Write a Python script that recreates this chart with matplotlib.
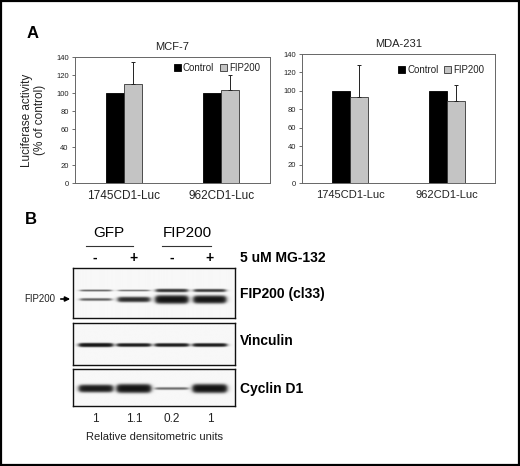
import numpy as np
import matplotlib
matplotlib.use("Agg")
import matplotlib.pyplot as plt
from matplotlib.patches import Rectangle, FancyArrowPatch

plt.rcParams['font.family'] = ['Liberation Sans', 'DejaVu Sans']

# ---------------- data ----------------
categories = ["1745CD1-Luc", "962CD1-Luc"]
series_names = ["Control", "FIP200"]
mcf7_control = [100, 100]
mcf7_fip200 = [110, 103]
mcf7_fip200_err = [25, 17]
mda_control = [100, 100]
mda_fip200 = [93, 89]
mda_fip200_err = [35, 17]
yticks = [0, 20, 40, 60, 80, 100, 120, 140]

lane_groups = ["GFP", "FIP200"]
mg132 = ["-", "+", "-", "+"]
fip200_upper = [0.35, 0.30, 0.60, 0.55]
fip200_lower = [0.35, 0.65, 0.97, 0.92]
vinculin = [0.95, 0.85, 0.85, 0.85]
cyclin_d1 = [0.85, 0.97, 0.32, 0.97]
densito = ["1", "1.1", "0.2", "1"]

W, H = 520, 466
fig = plt.figure(figsize=(W / 100, H / 100), dpi=100)
TXT = '#222222'


def fx(px):
    return px / W


def fy(py):
    return 1 - py / H


def bar_chart(rect, ctrl, fip, err, title, tick_fs, cat_fs, leg_anchor, ylabel=None):
    ax = fig.add_axes(rect)
    x = np.arange(len(categories))
    w = 0.185
    ax.bar(x - w / 2, ctrl, w, color='black', edgecolor='black', lw=0.6, label=series_names[0])
    ax.bar(x + w / 2, fip, w, color='#c4c4c4', edgecolor='#333333', lw=0.6, label=series_names[1])
    ax.errorbar(x + w / 2, fip, yerr=[np.zeros(len(err)), err], fmt='none',
                ecolor='#222222', elinewidth=0.7, capsize=1.2, capthick=0.7)
    ax.set_xlim(-0.5, 1.5)
    ax.set_ylim(0, 140)
    ax.set_yticks(yticks)
    ax.set_yticklabels([str(t) for t in yticks], fontsize=tick_fs, color=TXT)
    ax.set_xticks(x)
    ax.set_xticklabels(categories, fontsize=cat_fs, color=TXT)
    ax.tick_params(axis='x', length=0, pad=5)
    ax.tick_params(axis='y', length=2.5, width=0.6, color='#555555', pad=2)
    for s in ax.spines.values():
        s.set_color('#666666')
        s.set_linewidth(0.7)
    ax.set_title(title, fontsize=8, color=TXT, pad=5)
    leg = ax.legend(loc='center right', bbox_to_anchor=leg_anchor, ncol=2, frameon=False,
                    fontsize=7, handlelength=0.7, handleheight=0.7, handletextpad=0.25,
                    columnspacing=0.6, borderaxespad=0)
    for t in leg.get_texts():
        t.set_color(TXT)
    if ylabel:
        ax.set_ylabel(ylabel, fontsize=8.5, color=TXT, linespacing=1.15)
        ax.yaxis.set_label_coords(-0.148, 0.5)
    return ax


bar_chart([fx(75), fy(183), fx(195), 126 / H], mcf7_control, mcf7_fip200, mcf7_fip200_err,
          "MCF-7", 5.5, 8.5, (0.97, 0.913), "Luciferase activity\n(% of control)")
bar_chart([fx(302), fy(183), fx(193), 129 / H], mda_control, mda_fip200, mda_fip200_err,
          "MDA-231", 5.5, 8, (0.965, 0.876))


# ---------------- blot ----------------
def blot(top, bottom, bands):
    ax = fig.add_axes([fx(73), fy(bottom), fx(162), (bottom - top) / H])
    hgt = bottom - top
    xs = np.linspace(-0.6, 3.66, 500)
    ys = np.linspace(0, hgt, 250)
    X, Y = np.meshgrid(xs, ys)
    dens = np.zeros_like(X)
    for inten, yc, base, hw in bands:
        for lane, val in enumerate(inten):
            hprof = 1 / (1 + np.exp((np.abs(X - lane) - hw) / 0.035))
            t = max(0.8, base * val)
            dens += val * hprof * np.exp(-(np.abs(Y - yc) / t) ** 2.5)
    img = 1 - np.exp(-2.6 * dens)
    ax.imshow(img, extent=(-0.6, 3.66, hgt, 0), cmap='gray_r', vmin=-0.03, vmax=1.0,
              aspect='auto', interpolation='bilinear')
    ax.set_xlim(-0.6, 3.66)
    ax.set_ylim(hgt, 0)
    ax.set_xticks([])
    ax.set_yticks([])
    for s in ax.spines.values():
        s.set_color('#111111')
        s.set_linewidth(1.0)
    return ax


blot(268, 318, [(fip200_upper, 22.5, 2.5, 0.40), (fip200_lower, 31.5, 3.6, 0.40)])
blot(323, 365, [(vinculin, 22, 1.8, 0.42)])
blot(369, 406, [(cyclin_d1, 19.5, 3.8, 0.42)])

# ---------------- texts ----------------
lane_px = [95, 134, 172, 210]
fig.text(fx(33), fy(34), "A", fontsize=12, fontweight='bold', ha='center', va='center', color='black')
fig.text(fx(31), fy(220), "B", fontsize=12, fontweight='bold', ha='center', va='center', color='black')

fig.text(fx(109), fy(233), lane_groups[0], fontsize=11, ha='center', va='center', color='black')
fig.text(fx(187), fy(233), lane_groups[1], fontsize=11, ha='center', va='center', color='black')
fig.add_artist(plt.Line2D([fx(86), fx(133)], [fy(246), fy(246)], color='#333333', lw=0.8))
fig.add_artist(plt.Line2D([fx(162), fx(211)], [fy(246), fy(246)], color='#333333', lw=0.8))
for xp, lab in zip(lane_px, mg132):
    fig.text(fx(xp), fy(258), lab, fontsize=10, fontweight='bold', ha='center', va='center', color='black')
fig.text(fx(240), fy(258), "5 uM MG-132", fontsize=10, fontweight='bold', ha='left', va='center', color='black')
fig.text(fx(240), fy(294), "FIP200 (cl33)", fontsize=10, fontweight='bold', ha='left', va='center', color='black')
fig.text(fx(240), fy(341), "Vinculin", fontsize=10, fontweight='bold', ha='left', va='center', color='black')
fig.text(fx(240), fy(389), "Cyclin D1", fontsize=10, fontweight='bold', ha='left', va='center', color='black')
fig.text(fx(24), fy(299), "FIP200", fontsize=7, ha='left', va='center', color=TXT)
fig.add_artist(FancyArrowPatch((fx(58), fy(299)), (fx(73), fy(299)),
                               transform=fig.transFigure, arrowstyle='-|>',
                               mutation_scale=7, color='black', lw=1.2))
for xp, lab in zip(lane_px, densito):
    fig.text(fx(xp), fy(419), lab, fontsize=8.5, ha='center', va='center', color=TXT)
fig.text(fx(154), fy(437), "Relative densitometric units", fontsize=8, ha='center', va='center', color=TXT)

fig.add_artist(Rectangle((0.0015, 0.0015), 0.997, 0.997, transform=fig.transFigure,
                         fill=False, edgecolor='black', lw=1.6))

fig.savefig("out.png", dpi=100)
